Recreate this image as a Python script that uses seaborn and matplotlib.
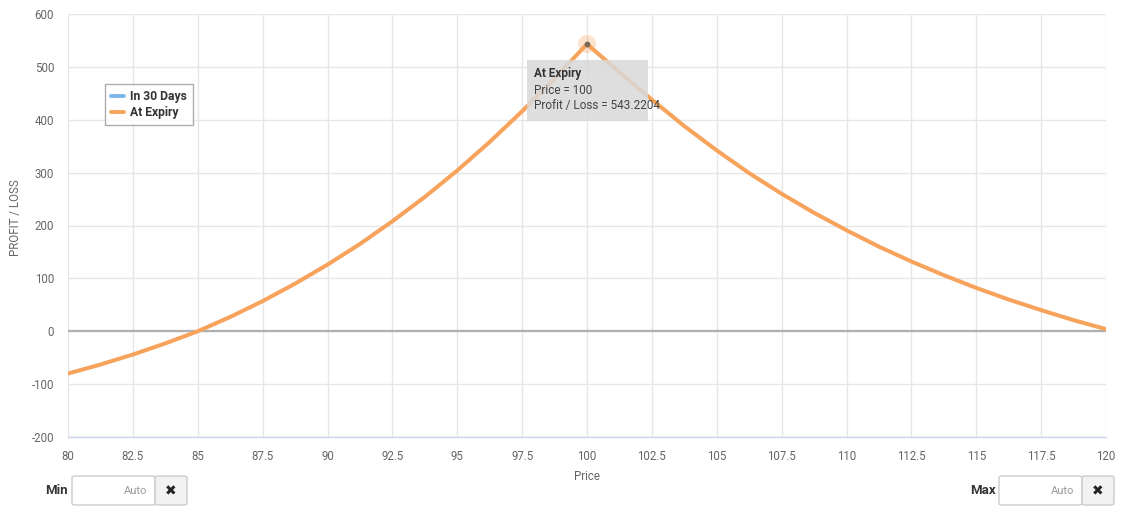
import matplotlib
matplotlib.use("Agg")
import matplotlib.pyplot as plt
from matplotlib.lines import Line2D
from matplotlib.patches import FancyBboxPatch
import seaborn as sns
import pandas as pd

# ---- data ----
price = [80, 81.25, 82.5, 83.75, 85, 86.25, 87.5, 88.75, 90, 91.25, 92.5, 93.75,
         95, 96.25, 97.5, 98.75, 100, 101.25, 102.5, 103.75, 105, 106.25, 107.5,
         108.75, 110, 111.25, 112.5, 113.75, 115, 116.25, 117.5, 118.75, 120]
at_expiry = [-80, -63, -44, -23, 0, 27, 57, 90, 126, 165, 208, 254, 304, 358, 416,
             478, 543.2204, 490, 438, 388, 342, 299, 260, 224, 191, 160, 132, 106,
             82, 60, 40, 21, 4]
x_ticks = [80, 82.5, 85, 87.5, 90, 92.5, 95, 97.5, 100, 102.5, 105, 107.5, 110,
           112.5, 115, 117.5, 120]
x_tick_labels = ["80", "82.5", "85", "87.5", "90", "92.5", "95", "97.5", "100",
                 "102.5", "105", "107.5", "110", "112.5", "115", "117.5", "120"]
y_ticks = [-200, -100, 0, 100, 200, 300, 400, 500, 600]
series_names = ["In 30 Days", "At Expiry"]
series_colors = ["#7cb5ec", "#f7a35c"]
tooltip_title = "At Expiry"
tooltip_price = 100
tooltip_value = 543.2204

df = pd.DataFrame({"Price": price, "PL": at_expiry})

sns.set_theme(style="white")
plt.rcParams["font.family"] = ["Roboto", "DejaVu Sans"]
plt.rcParams["axes.unicode_minus"] = False

W, H = 1140, 518
fig = plt.figure(figsize=(W / 100, H / 100), dpi=100)
L, R, T, B = 68, 1106, 14, 437
ax = fig.add_axes([L / W, 1 - B / H, (R - L) / W, (B - T) / H])

ax.axhline(0, color="#b0b0b0", lw=1.6, zorder=1)
sns.lineplot(data=df, x="Price", y="PL", ax=ax, color=series_colors[1], lw=2.9,
             zorder=3, legend=False)

ax.set_xlim(80, 120)
ax.set_ylim(-200, 600)
ax.set_xticks(x_ticks)
ax.set_xticklabels(x_tick_labels)
ax.set_yticks(y_ticks)
ax.grid(True, color="#e6e6e6", lw=1)
ax.set_axisbelow(True)
for s in ["top", "right", "left"]:
    ax.spines[s].set_visible(False)
ax.spines["bottom"].set_color("#ccd6eb")
ax.spines["bottom"].set_linewidth(1)
ax.tick_params(axis="x", colors="#ccd6eb", length=8, width=1, direction="out",
               labelcolor="#666666", labelsize=8.3, pad=1)
ax.tick_params(axis="y", length=0, labelcolor="#666666", labelsize=8.3, pad=10)
ax.set_xlabel("Price", color="#666666", fontsize=8.3)
ax.xaxis.set_label_coords((587 - L) / (R - L), -(470 - B) / (B - T))
ax.set_ylabel("PROFIT / LOSS", color="#666666", fontsize=8.3)
ax.yaxis.set_label_coords(-(L - 22) / (R - L), (B - 218) / (B - T))

# legend
handles = [Line2D([0], [0], color=c, lw=2.8) for c in series_colors]
leg = ax.legend(handles, series_names, loc="upper left",
                bbox_to_anchor=((105 - L) / (R - L), 1 - (84 - T) / (B - T)),
                borderaxespad=0, frameon=True, fancybox=False, fontsize=8.7,
                handlelength=1.1, handletextpad=0.5, borderpad=0.5,
                labelspacing=0.25)
leg.get_frame().set_edgecolor("#999999")
leg.get_frame().set_linewidth(1)
for t in leg.get_texts():
    t.set_color("#333333")
    t.set_fontweight("bold")

# hover marker
ax.scatter([tooltip_price], [tooltip_value], s=170, color=series_colors[1],
           alpha=0.3, edgecolor="none", zorder=4)
ax.scatter([tooltip_price], [tooltip_value], s=10, color="#7a6a5a", zorder=5)

# tooltip
def fx(px):
    return px / W

def fy(py):
    return 1 - py / H

tip = FancyBboxPatch((fx(527), fy(121)), fx(648) - fx(527), fy(60) - fy(121),
                     boxstyle="square,pad=0", transform=fig.transFigure,
                     facecolor="#d9d9d9", alpha=0.85, edgecolor="none", zorder=10)
fig.patches.append(tip)
fig.text(fx(534), fy(74), tooltip_title, fontsize=8.5, fontweight="bold",
         color="#333333", va="center", zorder=11)
fig.text(fx(534), fy(90), f"Price = {tooltip_price}", fontsize=8.5,
         color="#444444", va="center", zorder=11)
fig.text(fx(534), fy(106), f"Profit / Loss = {tooltip_value}", fontsize=8.5,
         color="#444444", va="center", zorder=11)

# bottom controls
def control(label, label_x, box_x):
    fig.text(fx(label_x), fy(491), label, fontsize=9.5, fontweight="bold",
             color="#333333", va="center", ha="right")
    fig.patches.append(FancyBboxPatch((fx(box_x), fy(505)), fx(83), fy(0) - fy(29),
                                      boxstyle="round,pad=0,rounding_size=0.003",
                                      transform=fig.transFigure, facecolor="white",
                                      edgecolor="#cccccc", lw=1))
    fig.patches.append(FancyBboxPatch((fx(box_x + 83), fy(505)), fx(32), fy(0) - fy(29),
                                      boxstyle="round,pad=0,rounding_size=0.003",
                                      transform=fig.transFigure, facecolor="#f2f2f2",
                                      edgecolor="#cccccc", lw=1))
    fig.text(fx(box_x + 75), fy(491), "Auto", fontsize=8, color="#999999",
             va="center", ha="right")
    fig.text(fx(box_x + 99), fy(491), "\u2716", fontsize=10, color="#222222",
             va="center", ha="center", family="DejaVu Sans")

control("Min", 68, 72)
control("Max", 996, 999)

fig.savefig("out.png", dpi=100)
